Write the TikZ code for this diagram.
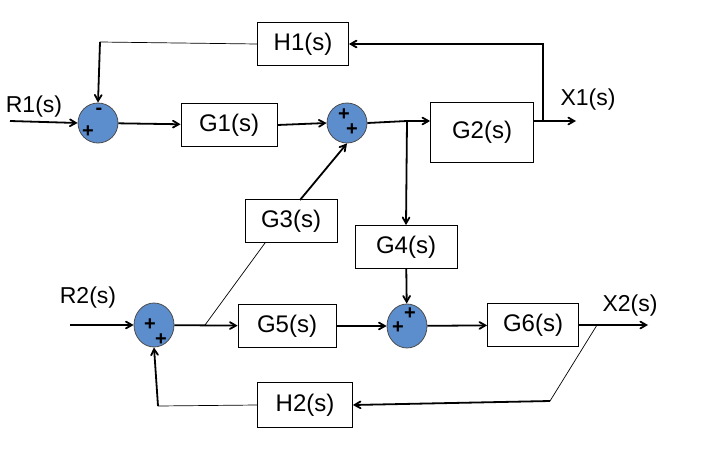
\documentclass[tikz,border=0pt]{standalone}
\usepackage{fontspec}
\setmainfont{Liberation Sans}
\usetikzlibrary{arrows}
\usetikzlibrary{shapes.geometric}
\definecolor{sumblue}{RGB}{92,141,205}
\begin{document}
\begin{tikzpicture}[x=1pt,y=-1pt,line width=1.8pt,
	block/.style = {draw, line width=0.8pt, minimum width=#1, minimum height=43pt,
		font=\fontsize{24}{26}\selectfont},
	block/.default = 94pt,
	sum/.style = {ellipse, draw=black!70, fill=sumblue, line width=0.8pt,
		minimum width=40pt, minimum height=#1},
	sum/.default = 40pt,
	sgn/.style = {font=\fontsize{20}{20}\selectfont\bfseries},
	lbl/.style = {font=\fontsize{23}{25}\selectfont},
	fine/.style = {line width=0.7pt},
	>=angle 60]
	
	\useasboundingbox (0,0) rectangle (708,452);
	
	% Summing points
	\node[sum] (S1) at (98,123) {};
	\node[sum] (S2) at (347,123) {};
	\node[sum=44pt] (S3) at (154,325) {};
	\node[sum=44pt] (S4) at (407,326) {};
	
	% Signs
	\node[sgn] at (99,111) {-};
	\node[sgn] at (88,132) {+};
	\node[sgn] at (344,115) {+};
	\node[sgn] at (352,130) {+};
	\node[sgn] at (150,325) {+};
	\node[sgn] at (161,340) {+};
	\node[sgn] at (398,328) {+};
	\node[sgn] at (410,314) {+};
	
	% Blocks
	\node[block=96pt] (G1) at (229,125) {G1(s)};
	\node[block=103pt, minimum height=60pt] (G2) at (482,132) {G2(s)};
	\node[block=91pt] (H1) at (303,44) {H1(s)};
	\node[block=92pt] (G3) at (291,221) {G3(s)};
	\node[block=102pt] (G4) at (406,247) {G4(s)};
	\node[block=98pt] (G5) at (287,326) {G5(s)};
	\node[block=91pt] (G6) at (533,325) {G6(s)};
	\node[block=95pt, minimum height=45pt] (H2) at (305,405) {H2(s)};
	
	% Helper points
	\coordinate (R1) at (10,121);
	\coordinate (R2) at (70,325);
	\coordinate (J1) at (407,121);
	\coordinate (T1) at (543,121);
	\coordinate (X1) at (576,121);
	\coordinate (J3) at (205,325);
	\coordinate (T2) at (597,325);
	\coordinate (X2) at (648,325);
	\coordinate (B2) at (550,401);
	
	% Upper loop
	\draw[->] (R1) -- (S1.west);
	\draw[->] (S1) -- (G1);
	\draw[->] (G1.east) -- (S2.west);
	\draw (S2.east) -- (J1);
	\draw[->] (J1) -- (J1 -| G2.west);
	\draw[->] (G2.east |- J1) -- (X1);
	\draw[->] (T1) |- (H1.east);
	\draw[fine] (H1.west) -- (100,42);
	\draw[->] (100,42) -- (S1.north);
	\draw[->] (J1) -- (G4.north);
	\draw[->] (G4) -- (S4);
	
	% Lower loop
	\draw[->] (R2) -- (S3.west);
	\draw[->] (S3) -- (G5);
	\draw[->] (G5) -- (S4);
	\draw[->] (S4) -- (G6);
	\draw[->] (G6) -- (X2);
	\draw[fine] (J3) -- (265,243);
	\draw[->] (300,200) -- (S2.south);
	\draw[fine] (T2) -- (B2);
	\draw[->] (B2) -- (H2.east);
	\draw[fine] (H2.west) -- (158,406);
	\draw[->] (158,406) -- (S3.south);
	
	% Signal labels
	\node[lbl] (r1) at (34,107) {R1(s)};
	\node[lbl] (x1) at (588,100) {X1(s)};
	\node[lbl] (r2) at (88,298) {R2(s)};
	\node[lbl] (x2) at (630,306) {X2(s)};
	
\end{tikzpicture}
\end{document}
